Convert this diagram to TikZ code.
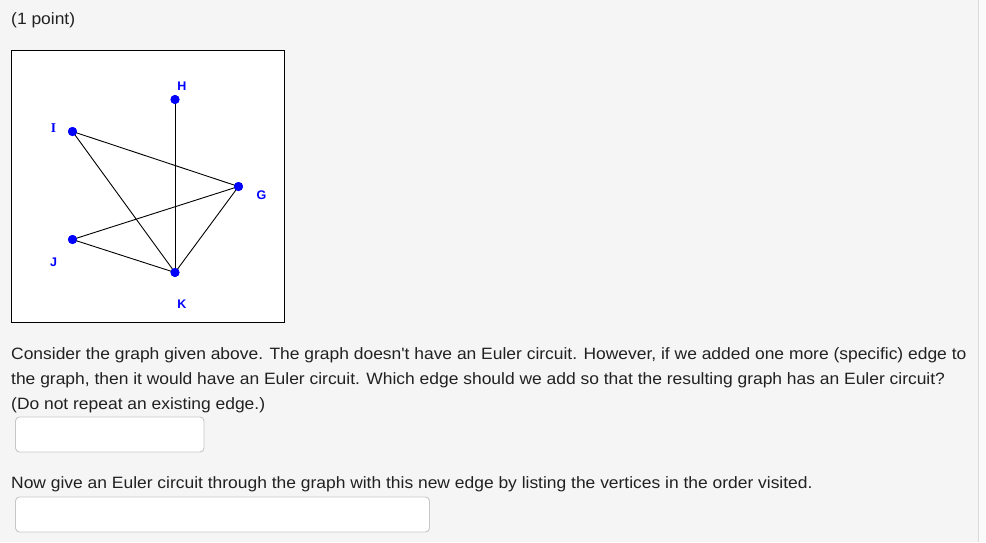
\documentclass[tikz,border=0pt]{standalone}
\usepackage{fontspec}
\setmainfont{Liberation Sans}
\newfontfamily\widesans[FakeStretch=1.063]{Liberation Sans}
\newfontfamily\serifb{Liberation Serif}
\begin{document}
\begin{tikzpicture}[x=1pt,y=-1pt,
  vtx/.style={circle,fill=blue,inner sep=0pt,minimum size=9pt},
  lbl/.style={text=blue,font=\fontsize{12.5}{12.5}\selectfont\bfseries,inner sep=0pt},
  edge/.style={draw=black,line width=0.9pt},
  txt/.style={anchor=base west,inner sep=0pt,text=black!87,font=\widesans\fontsize{16.4}{16.4}\selectfont},
  inbox/.style={draw=black!22,fill=white,rounded corners=4pt,line width=0.9pt}]
\fill[black!4] (0,0) rectangle (986,542);
\useasboundingbox (0,0) rectangle (986,542);
\fill[black!2] (978.5,0) rectangle (986,542);
\draw[black!14,line width=1pt] (978.5,0) -- (978.5,542);
% graph panel
\draw[fill=white,line width=1pt] (11,50) rectangle (284,322);
\node[vtx] (H) at (175,99.5) {};
\node[vtx] (I) at (72.5,131.5) {};
\node[vtx] (G) at (238.5,186.5) {};
\node[vtx] (J) at (72.5,239.5) {};
\node[vtx] (K) at (175,272.5) {};
\draw[edge] (I.center) -- (G.center);
\draw[edge] (I.center) -- (K.center);
\draw[edge] (H.center) -- (K.center);
\draw[edge] (J.center) -- (G.center);
\draw[edge] (G.center) -- (K.center);
\draw[edge] (J.center) -- (K.center);
\node[vtx] at (H) {};
\node[vtx] at (I) {};
\node[vtx] at (G) {};
\node[vtx] at (J) {};
\node[vtx] at (K) {};
\node[lbl] (lH) at (182,86) {H};
\node[lbl,font=\fontsize{13.5}{13.5}\selectfont\serifb\bfseries] (lI) at (53.5,128.5) {I};
\node[lbl] (lG) at (261.5,195.5) {G};
\node[lbl] (lJ) at (53.5,262.5) {J};
\node[lbl] (lK) at (182,304) {K};
% texts
\node[txt] (t0) at (11,24) {(1 point)};
\node[txt] (t1) at (11,359) {Consider the graph given above. The graph doesn{\char"27}t have an Euler circuit. However, if we added one more (specific) edge to};
\node[txt] (t2) at (11,384) {the graph, then it would have an Euler circuit. Which edge should we add so that the resulting graph has an Euler circuit?};
\node[txt] (t3) at (11,409) {(Do not repeat an existing edge.)};
\node[txt] (t4) at (11,488) {Now give an Euler circuit through the graph with this new edge by listing the vertices in the order visited.};
\draw[inbox] (15.5,417) rectangle (204,452);
\draw[inbox] (15.5,497) rectangle (429.5,532);
\end{tikzpicture}
\end{document}
